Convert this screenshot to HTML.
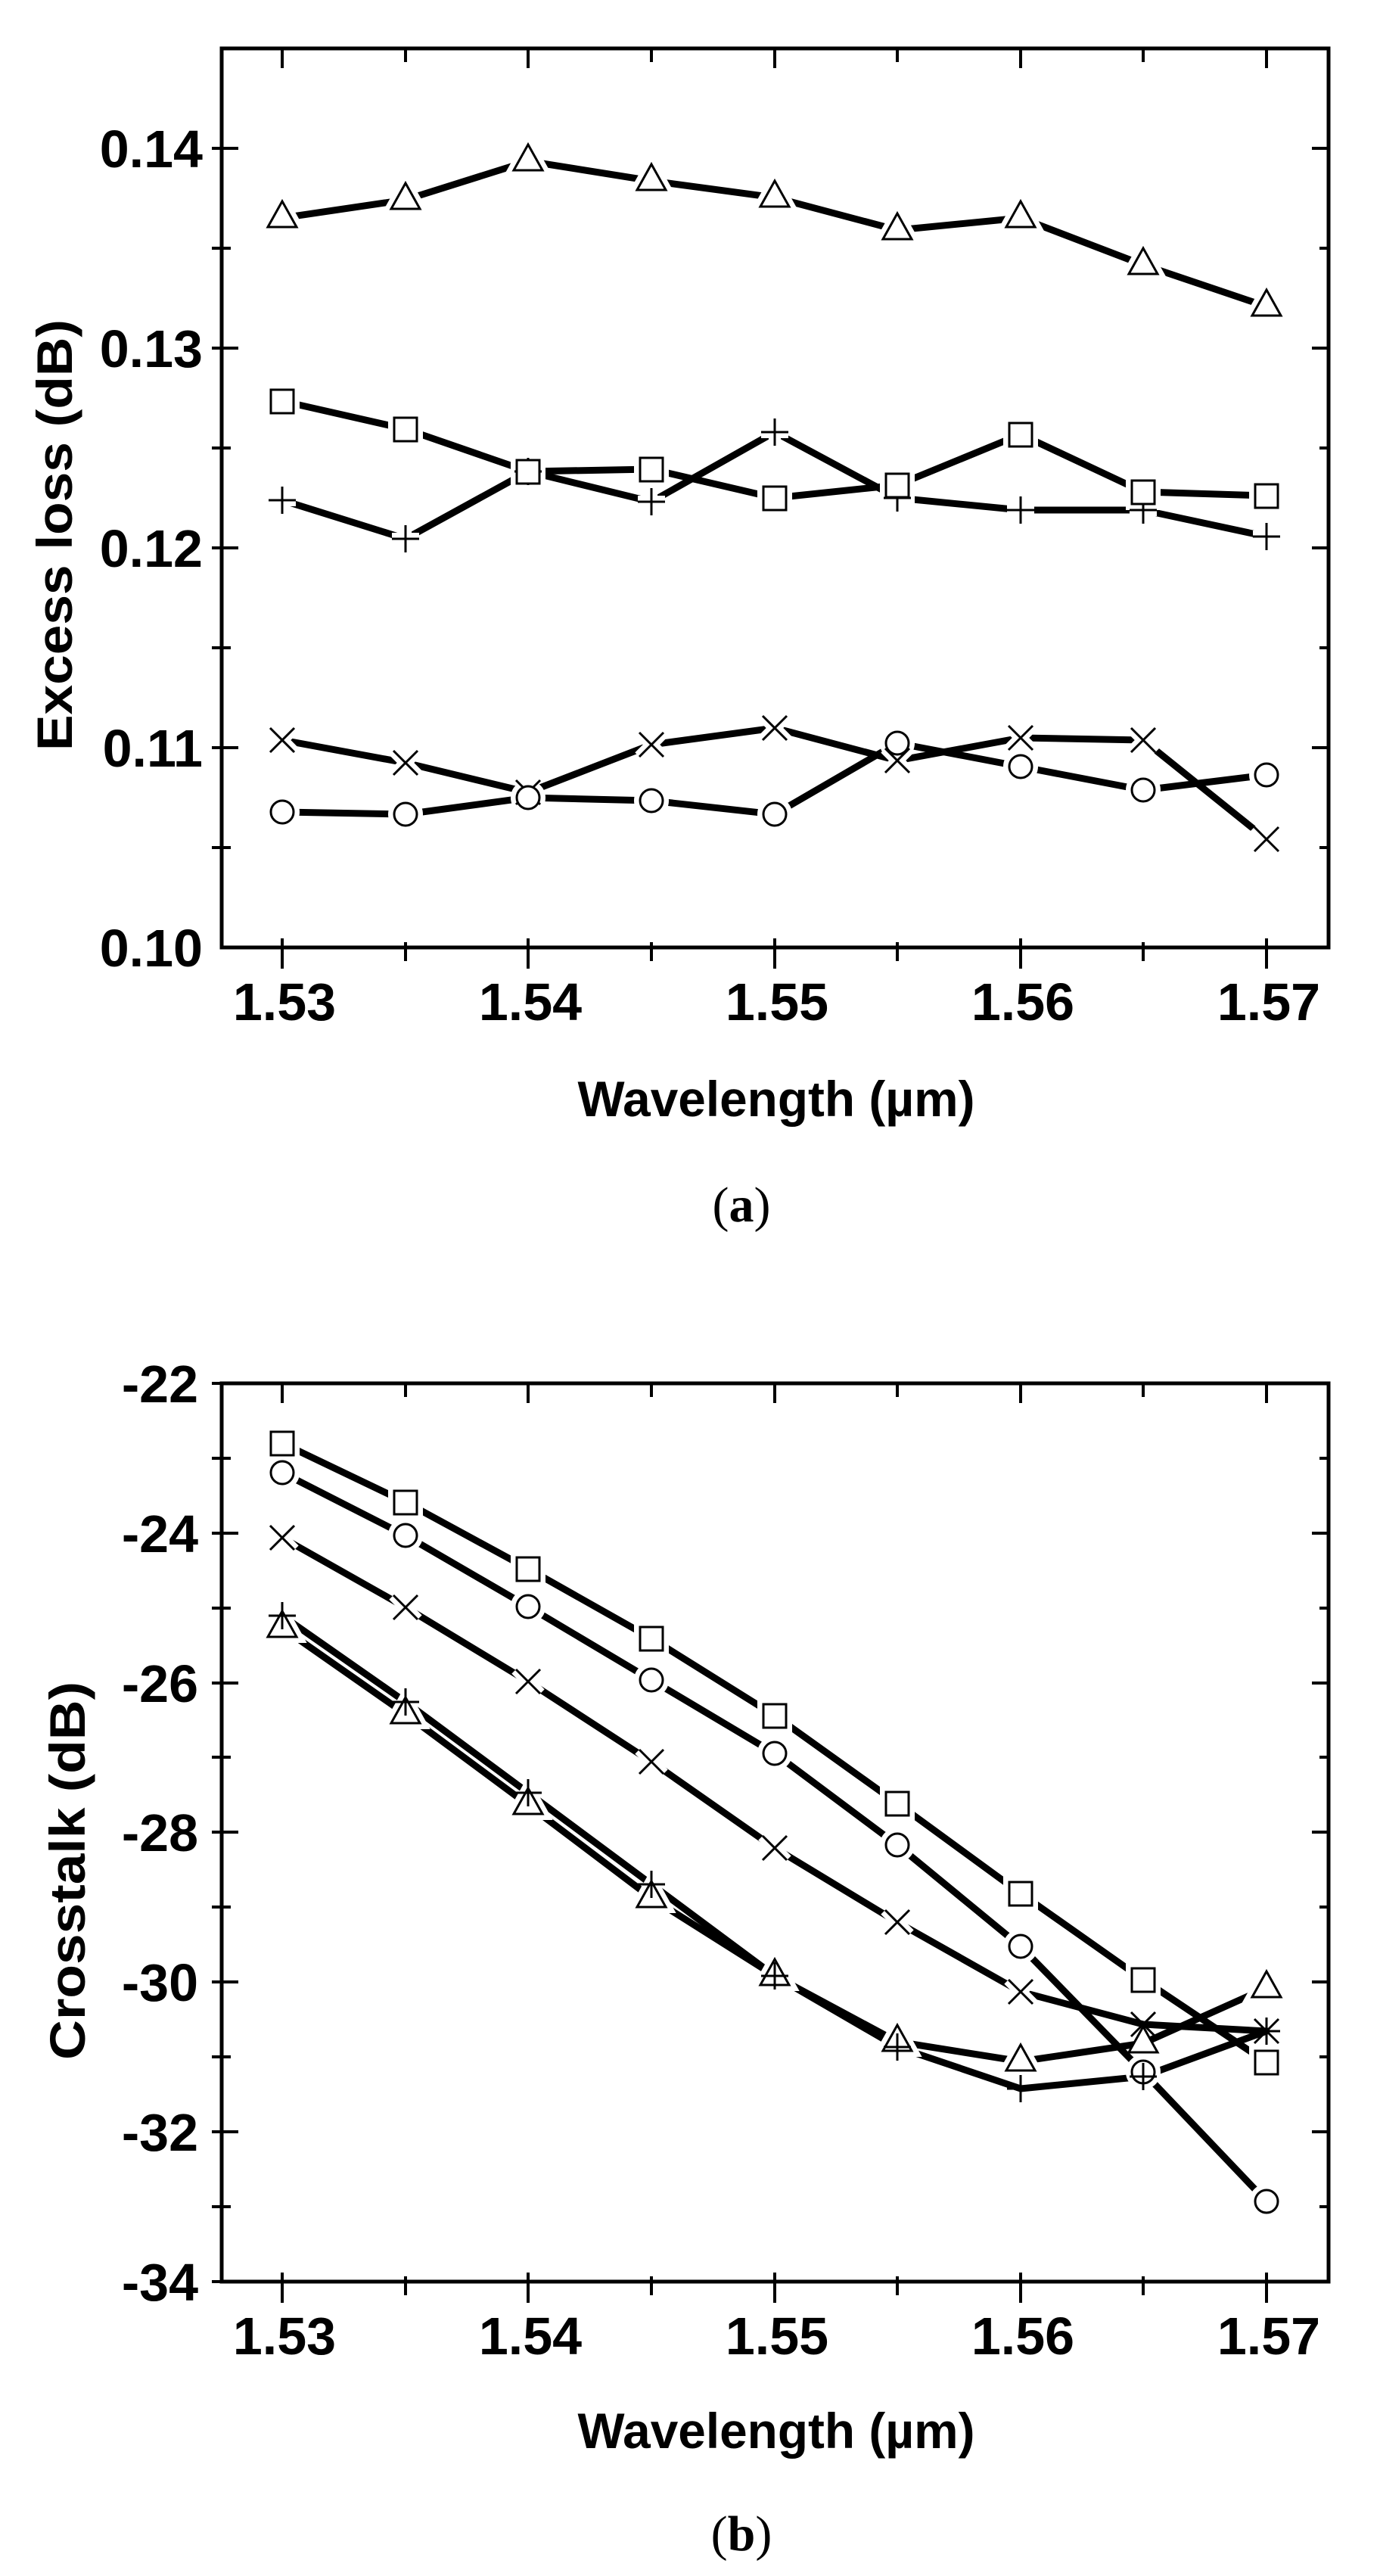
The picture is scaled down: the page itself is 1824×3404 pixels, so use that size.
<!DOCTYPE html>
<html><head><meta charset="utf-8"><style>
html,body{margin:0;padding:0;background:#fff}
svg{display:block}
.ax{font-family:"Liberation Sans",sans-serif;font-weight:bold;font-size:70px;fill:#000}
.ttl{font-family:"Liberation Sans",sans-serif;font-weight:bold;font-size:66px;fill:#000}
.cap{font-family:"Liberation Serif",serif;font-size:66px;fill:#000}
.ln{fill:none;stroke:#000;stroke-width:9;stroke-linecap:round;stroke-linejoin:round}
.halo{stroke:#fff;stroke-width:16;fill:#fff}
.mk{stroke:#000;stroke-width:3;fill:#fff}
.tk{stroke:#000;stroke-width:4}
</style></head><body>
<svg width="1824" height="3404" viewBox="0 0 1824 3404" xmlns="http://www.w3.org/2000/svg">
<defs>
<g id="tri"><path d="M0,-22 L19,12 L-19,12 Z"/></g>
<g id="sq"><rect x="-15" y="-15" width="30" height="31"/></g>
<g id="ci"><circle r="15"/></g>
<g id="xx"><path d="M-16,-16 L16,16 M16,-16 L-16,16"/></g>
<g id="pl"><path d="M-18,0 L18,0 M0,-18 L0,18"/></g>
</defs>

<!-- ============ PLOT A ============ -->
<rect x="293" y="64" width="1463" height="1188" fill="none" stroke="#000" stroke-width="5"/>
<g class="tk">
<!-- y ticks -->
<path d="M280,196H315M280,328H305M280,460H315M280,592H305M280,724H315M280,856H305M280,988H315M280,1120H305
M1734,196H1756M1744,328H1756M1734,460H1756M1744,592H1756M1734,724H1756M1744,856H1756M1734,988H1756M1744,1120H1756"/>
<!-- x ticks -->
<path d="M373,1240V1280M536,1245V1270M698,1240V1280M861,1245V1270M1024,1240V1280M1186,1245V1270M1349,1240V1280M1511,1245V1270M1674,1240V1280
M373,64V90M536,64V82M698,64V90M861,64V82M1024,64V90M1186,64V82M1349,64V90M1511,64V82M1674,64V90"/>
</g>
<g class="ax" text-anchor="end">
<text x="268" y="221">0.14</text>
<text x="268" y="485">0.13</text>
<text x="268" y="749">0.12</text>
<text x="268" y="1013">0.11</text>
<text x="268" y="1277">0.10</text>
</g>
<g class="ax" text-anchor="middle">
<text x="376" y="1348">1.53</text>
<text x="701" y="1348">1.54</text>
<text x="1027" y="1348">1.55</text>
<text x="1352" y="1348">1.56</text>
<text x="1677" y="1348">1.57</text>
</g>
<text class="ttl" x="1026" y="1475" text-anchor="middle" textLength="525" lengthAdjust="spacingAndGlyphs">Wavelength (µm)</text>
<text class="ttl" transform="translate(95,707) rotate(-90)" text-anchor="middle" textLength="570" lengthAdjust="spacingAndGlyphs">Excess loss (dB)</text>
<text class="cap" x="980" y="1614" text-anchor="middle">(<tspan font-weight="bold">a</tspan>)</text>

<g class="ln">
<polyline points="373,288 536,264 698,213 861,239 1024,261 1186,304 1349,288 1511,350 1674,405"/>
<polyline points="373,530 536,567 698,623 861,620 1024,658 1186,641 1349,574 1511,650 1674,655"/>
<polyline points="373,661 536,712 698,623 861,663 1024,571 1186,658 1349,674 1511,674 1674,709"/>
<polyline points="373,978 536,1008 698,1047 861,984 1024,962 1186,1005 1349,975 1511,978 1674,1109"/>
<polyline points="373,1073 536,1076 698,1054 861,1058 1024,1076 1186,982 1349,1013 1511,1044 1674,1024"/>
</g>
<g class="halo">
<use href="#tri" x="373" y="288"/><use href="#tri" x="536" y="264"/><use href="#tri" x="698" y="213"/><use href="#tri" x="861" y="239"/><use href="#tri" x="1024" y="261"/><use href="#tri" x="1186" y="304"/><use href="#tri" x="1349" y="288"/><use href="#tri" x="1511" y="350"/><use href="#tri" x="1674" y="405"/>
<use href="#sq" x="373" y="530"/><use href="#sq" x="536" y="567"/><use href="#sq" x="698" y="623"/><use href="#sq" x="861" y="620"/><use href="#sq" x="1024" y="658"/><use href="#sq" x="1186" y="641"/><use href="#sq" x="1349" y="574"/><use href="#sq" x="1511" y="650"/><use href="#sq" x="1674" y="655"/>
<use href="#pl" x="373" y="661"/><use href="#pl" x="536" y="712"/><use href="#pl" x="861" y="663"/><use href="#pl" x="1024" y="571"/><use href="#pl" x="1349" y="674"/><use href="#pl" x="1511" y="674"/><use href="#pl" x="1674" y="709"/>
<use href="#xx" x="373" y="978"/><use href="#xx" x="536" y="1008"/><use href="#xx" x="861" y="984"/><use href="#xx" x="1024" y="962"/><use href="#xx" x="1186" y="1005"/><use href="#xx" x="1349" y="975"/><use href="#xx" x="1511" y="978"/><use href="#xx" x="1674" y="1109"/>
<use href="#ci" x="373" y="1073"/><use href="#ci" x="536" y="1076"/><use href="#ci" x="698" y="1054"/><use href="#ci" x="861" y="1058"/><use href="#ci" x="1024" y="1076"/><use href="#ci" x="1186" y="982"/><use href="#ci" x="1349" y="1013"/><use href="#ci" x="1511" y="1044"/><use href="#ci" x="1674" y="1024"/>
</g>
<g class="mk">
<use href="#tri" x="373" y="288"/><use href="#tri" x="536" y="264"/><use href="#tri" x="698" y="213"/><use href="#tri" x="861" y="239"/><use href="#tri" x="1024" y="261"/><use href="#tri" x="1186" y="304"/><use href="#tri" x="1349" y="288"/><use href="#tri" x="1511" y="350"/><use href="#tri" x="1674" y="405"/>
<use href="#pl" x="373" y="661"/><use href="#pl" x="536" y="712"/><use href="#pl" x="698" y="623"/><use href="#pl" x="861" y="663"/><use href="#pl" x="1024" y="571"/><use href="#pl" x="1186" y="658"/><use href="#pl" x="1349" y="674"/><use href="#pl" x="1511" y="674"/><use href="#pl" x="1674" y="709"/>
<use href="#sq" x="373" y="530"/><use href="#sq" x="536" y="567"/><use href="#sq" x="698" y="623"/><use href="#sq" x="861" y="620"/><use href="#sq" x="1024" y="658"/><use href="#sq" x="1186" y="641"/><use href="#sq" x="1349" y="574"/><use href="#sq" x="1511" y="650"/><use href="#sq" x="1674" y="655"/>
<use href="#xx" x="373" y="978"/><use href="#xx" x="536" y="1008"/><use href="#xx" x="698" y="1047"/><use href="#xx" x="861" y="984"/><use href="#xx" x="1024" y="962"/><use href="#xx" x="1186" y="1005"/><use href="#xx" x="1349" y="975"/><use href="#xx" x="1511" y="978"/><use href="#xx" x="1674" y="1109"/>
<use href="#ci" x="373" y="1073"/><use href="#ci" x="536" y="1076"/><use href="#ci" x="698" y="1054"/><use href="#ci" x="861" y="1058"/><use href="#ci" x="1024" y="1076"/><use href="#ci" x="1186" y="982"/><use href="#ci" x="1349" y="1013"/><use href="#ci" x="1511" y="1044"/><use href="#ci" x="1674" y="1024"/>
</g>

<!-- ============ PLOT B ============ -->
<rect x="293" y="1828" width="1463" height="1187" fill="none" stroke="#000" stroke-width="5"/>
<g class="tk">
<path d="M280,1828H315M280,1927H305M280,2026H315M280,2125H305M280,2224H315M280,2322H305M280,2421H315M280,2520H305M280,2619H315M280,2718H305M280,2817H315M280,2916H305M280,3015H315
M1734,2026H1756M1744,1927H1756M1744,2125H1756M1734,2224H1756M1744,2322H1756M1734,2421H1756M1744,2520H1756M1734,2619H1756M1744,2718H1756M1734,2817H1756M1744,2916H1756"/>
<path d="M373,3003V3043M536,3008V3033M698,3003V3043M861,3008V3033M1024,3003V3043M1186,3008V3033M1349,3003V3043M1511,3008V3033M1674,3003V3043
M373,1828V1854M536,1828V1846M698,1828V1854M861,1828V1846M1024,1828V1854M1186,1828V1846M1349,1828V1854M1511,1828V1846M1674,1828V1854"/>
</g>
<g class="ax" text-anchor="end">
<text x="262" y="1853">-22</text>
<text x="262" y="2051">-24</text>
<text x="262" y="2249">-26</text>
<text x="262" y="2446">-28</text>
<text x="262" y="2644">-30</text>
<text x="262" y="2842">-32</text>
<text x="262" y="3040">-34</text>
</g>
<g class="ax" text-anchor="middle">
<text x="376" y="3111">1.53</text>
<text x="701" y="3111">1.54</text>
<text x="1027" y="3111">1.55</text>
<text x="1352" y="3111">1.56</text>
<text x="1677" y="3111">1.57</text>
</g>
<text class="ttl" x="1026" y="3235" text-anchor="middle" textLength="525" lengthAdjust="spacingAndGlyphs">Wavelength (µm)</text>
<text class="ttl" transform="translate(112,2472) rotate(-90)" text-anchor="middle" textLength="500" lengthAdjust="spacingAndGlyphs">Crosstalk (dB)</text>
<text class="cap" x="980" y="3370" text-anchor="middle">(<tspan font-weight="bold">b</tspan>)</text>

<g class="ln">
<polyline points="373,1907 536,1985 698,2073 861,2165 1024,2267 1186,2383 1349,2502 1511,2616 1674,2725"/>
<polyline points="373,1946 536,2029 698,2123 861,2220 1024,2317 1186,2438 1349,2572 1511,2738 1674,2909"/>
<polyline points="373,2032 536,2124 698,2222 861,2328 1024,2442 1186,2540 1349,2632 1511,2675 1674,2684"/>
<polyline points="373,2135 536,2249 698,2369 861,2490 1024,2611 1186,2705 1349,2760 1511,2744 1674,2684"/>
<polyline points="373,2151 536,2265 698,2385 861,2508 1024,2611 1186,2698 1349,2724 1511,2700 1674,2627"/>
</g>
<g class="halo">
<use href="#sq" x="373" y="1907"/><use href="#sq" x="536" y="1985"/><use href="#sq" x="698" y="2073"/><use href="#sq" x="861" y="2165"/><use href="#sq" x="1024" y="2267"/><use href="#sq" x="1186" y="2383"/><use href="#sq" x="1349" y="2502"/><use href="#sq" x="1511" y="2616"/><use href="#sq" x="1674" y="2725"/>
<use href="#ci" x="373" y="1946"/><use href="#ci" x="536" y="2029"/><use href="#ci" x="698" y="2123"/><use href="#ci" x="861" y="2220"/><use href="#ci" x="1024" y="2317"/><use href="#ci" x="1186" y="2438"/><use href="#ci" x="1349" y="2572"/><use href="#ci" x="1511" y="2738"/><use href="#ci" x="1674" y="2909"/>
<use href="#xx" x="373" y="2032"/><use href="#xx" x="536" y="2124"/><use href="#xx" x="698" y="2222"/><use href="#xx" x="861" y="2328"/><use href="#xx" x="1024" y="2442"/><use href="#xx" x="1186" y="2540"/><use href="#xx" x="1349" y="2632"/>
<use href="#tri" x="373" y="2151"/><use href="#tri" x="536" y="2265"/><use href="#tri" x="698" y="2385"/><use href="#tri" x="861" y="2508"/><use href="#tri" x="1024" y="2611"/><use href="#tri" x="1186" y="2698"/><use href="#tri" x="1349" y="2724"/><use href="#tri" x="1674" y="2627"/>
</g>
<g class="mk">
<use href="#sq" x="373" y="1907"/><use href="#sq" x="536" y="1985"/><use href="#sq" x="698" y="2073"/><use href="#sq" x="861" y="2165"/><use href="#sq" x="1024" y="2267"/><use href="#sq" x="1186" y="2383"/><use href="#sq" x="1349" y="2502"/><use href="#sq" x="1511" y="2616"/><use href="#sq" x="1674" y="2725"/>
<use href="#ci" x="373" y="1946"/><use href="#ci" x="536" y="2029"/><use href="#ci" x="698" y="2123"/><use href="#ci" x="861" y="2220"/><use href="#ci" x="1024" y="2317"/><use href="#ci" x="1186" y="2438"/><use href="#ci" x="1349" y="2572"/><use href="#ci" x="1511" y="2738"/><use href="#ci" x="1674" y="2909"/>
<use href="#xx" x="373" y="2032"/><use href="#xx" x="536" y="2124"/><use href="#xx" x="698" y="2222"/><use href="#xx" x="861" y="2328"/><use href="#xx" x="1024" y="2442"/><use href="#xx" x="1186" y="2540"/><use href="#xx" x="1349" y="2632"/><use href="#xx" x="1511" y="2675"/><use href="#xx" x="1674" y="2684"/>
<use href="#tri" x="373" y="2151"/><use href="#tri" x="536" y="2265"/><use href="#tri" x="698" y="2385"/><use href="#tri" x="861" y="2508"/><use href="#tri" x="1024" y="2611"/><use href="#tri" x="1186" y="2698"/><use href="#tri" x="1349" y="2724"/><use href="#tri" x="1511" y="2700"/><use href="#tri" x="1674" y="2627"/>
<use href="#pl" x="373" y="2135"/><use href="#pl" x="536" y="2249"/><use href="#pl" x="698" y="2369"/><use href="#pl" x="861" y="2490"/><use href="#pl" x="1024" y="2611"/><use href="#pl" x="1186" y="2705"/><use href="#pl" x="1349" y="2760"/><use href="#pl" x="1511" y="2744"/><use href="#pl" x="1674" y="2684"/>
</g>
</svg>
</body></html>
